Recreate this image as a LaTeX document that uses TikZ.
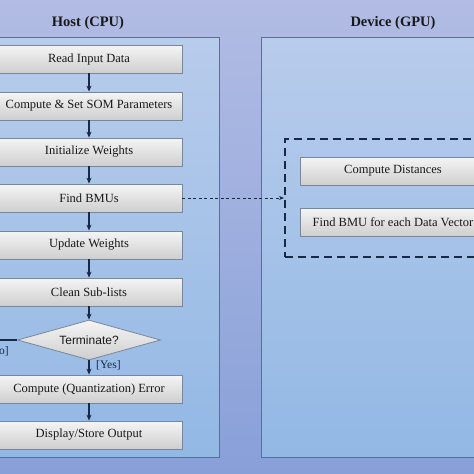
\documentclass[tikz,border=0pt]{standalone}
\usepackage{fontspec}
\setmainfont{Liberation Serif}
\newfontfamily\arialf{Liberation Sans}
\usetikzlibrary{shapes.geometric,arrows.meta}
\definecolor{bgtop}{RGB}{178,188,228}
\definecolor{bgbot}{RGB}{136,160,216}
\definecolor{pntop}{RGB}{184,204,236}
\definecolor{pnbot}{RGB}{146,184,228}
\definecolor{pnedge}{RGB}{90,110,150}
\definecolor{boxedge}{RGB}{120,135,155}
\definecolor{navy}{RGB}{25,40,70}
\definecolor{txt}{RGB}{25,25,25}
\tikzset{
  procbox/.style={draw=boxedge, line width=0.8pt, top color=gray!8, bottom color=gray!38,
    minimum width=186pt, minimum height=28pt, inner sep=0pt, font=\fontsize{12.5}{14}\selectfont, text=txt},
  decbox/.style={diamond, draw=boxedge, line width=0.8pt, top color=gray!8, bottom color=gray!38,
    aspect=3.6, minimum width=143pt, minimum height=40pt, inner sep=0pt, font=\arialf\fontsize{12}{14}\selectfont, text=txt},
  flow/.style={draw=navy, line width=1.6pt, -{Stealth[length=6pt,width=5pt]}},
  panel/.style={draw=pnedge, line width=0.8pt, top color=pntop, bottom color=pnbot},
  title/.style={font=\bfseries\fontsize{14.5}{16}\selectfont, text=txt},
  lbl/.style={font=\fontsize{11.5}{13}\selectfont, text=navy, inner sep=0pt}
}
\begin{document}
\begin{tikzpicture}[x=1pt,y=-1pt]
\useasboundingbox (0,0) rectangle (474,474);
\clip (0,0) rectangle (474,474);
\shade[top color=bgtop, bottom color=bgbot] (0,0) rectangle (474,474);
\node[title] (hostt) at (88,23) {Host (CPU)};
\node[title] (devt) at (393,23) {Device (GPU)};
\path[panel] (-20,37) rectangle (219,457);
\path[panel] (261,37) rectangle (500,457);
\node[procbox] (read) at (89,59) {Read Input Data};
\node[procbox] (som) at (89,106) {Compute \& Set SOM Parameters};
\node[procbox] (init) at (89,152) {Initialize Weights};
\node[procbox] (bmu) at (89,198) {Find BMUs};
\node[procbox] (upd) at (89,245) {Update Weights};
\node[procbox] (clean) at (89,292) {Clean Sub-lists};
\node[decbox] (term) at (89,340) {Terminate?};
\node[procbox] (err) at (89,389) {Compute (Quantization) Error};
\node[procbox] (out) at (89,435) {Display/Store Output};
\node[draw=navy, line width=2pt, dash pattern=on 8pt off 5pt, minimum width=216pt, minimum height=118pt, inner sep=0pt] (gpubox) at (393,198) {};
\node[procbox] (dist) at (393,171) {Compute Distances};
\node[procbox] (fbmu) at (393,222) {Find BMU for each Data Vector};
\draw[flow] (read) -- (som);
\draw[flow] (som) -- (init);
\draw[flow] (init) -- (bmu);
\draw[flow] (bmu) -- (upd);
\draw[flow] (upd) -- (clean);
\draw[flow] (clean) -- (term);
\draw[flow] (term) -- (err);
\draw[flow] (err) -- (out);
\coordinate (nol) at (-10,340);
\draw[navy, line width=1.6pt] (term.west) -- (nol);
\node[lbl, anchor=east] (no) at (9,351) {[No]};
\node[lbl, anchor=west] (yes) at (96,365) {[Yes]};
\draw[navy, line width=1pt, dash pattern=on 3pt off 2.5pt, -{Stealth[length=5pt,width=4pt]}] (bmu.east) -- (gpubox.west);
\end{tikzpicture}
\end{document}
